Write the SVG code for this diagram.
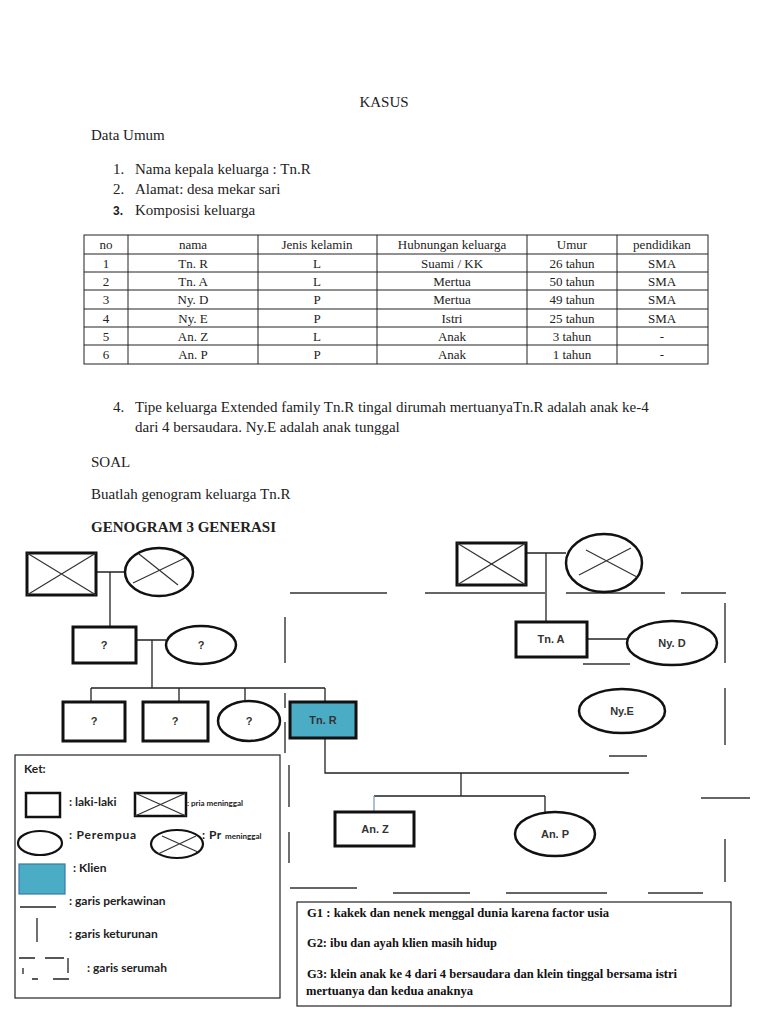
<svg xmlns="http://www.w3.org/2000/svg" width="768" height="1024" viewBox="0 0 768 1024">
<style>
.serif{font-family:"Liberation Serif","Times New Roman",serif;fill:#222}
.t15{font-size:15px}
.tb{font-size:13px;text-anchor:middle}
.lab{font-family:"Liberation Sans",Arial,sans-serif;font-size:11px;font-weight:bold;fill:#333;text-anchor:middle}
.leg{font-family:Lato,"Open Sans",sans-serif;font-size:12px;font-weight:bold;fill:#222}
.gbox{font-family:"Liberation Serif","Times New Roman",serif;font-size:12.5px;font-weight:bold;fill:#111}
.box{fill:#fff;stroke:#111;stroke-width:3}
.ell{fill:#fff;stroke:#111;stroke-width:2.5}
.x{stroke:#333;stroke-width:1.2;fill:none}
.con{stroke:#222;stroke-width:1.3;fill:none}
.dash{stroke:#333;stroke-width:1.4;fill:none}
.grid{stroke:#222;stroke-width:1;fill:none}
</style>

<!-- header text -->
<g id="header">
<text class="serif t15" x="384" y="107" text-anchor="middle">KASUS</text>
<text class="serif t15" x="91" y="140">Data Umum</text>
<text class="serif t15" x="113" y="174">1.</text>
<text class="serif t15" x="135" y="174">Nama kepala keluarga : Tn.R</text>
<text class="serif t15" x="113" y="194">2.</text>
<text class="serif t15" x="135" y="194">Alamat: desa mekar sari</text>
<text x="113" y="215" font-family="Liberation Sans,Arial,sans-serif" font-size="12" font-weight="bold" fill="#222">3.</text>
<text class="serif t15" x="135" y="215">Komposisi keluarga</text>
</g>

<!-- table -->
<g id="table">
<rect class="grid" x="84" y="235" width="624" height="129"/>
<path class="grid" d="M128 235V364M258 235V364M377 235V364M527 235V364M617 235V364M84 254H708M84 272H708M84 290H708M84 309H708M84 327H708M84 345H708"/>
<g class="serif tb">
<text x="106" y="249">no</text><text x="193" y="249">nama</text><text x="317" y="249">Jenis kelamin</text><text x="452" y="249">Hubnungan keluarga</text><text x="572" y="249">Umur</text><text x="662" y="249">pendidikan</text>
<text x="106" y="268">1</text><text x="193" y="268">Tn. R</text><text x="317" y="268">L</text><text x="452" y="268">Suami / KK</text><text x="572" y="268">26 tahun</text><text x="662" y="268">SMA</text>
<text x="106" y="286">2</text><text x="193" y="286">Tn. A</text><text x="317" y="286">L</text><text x="452" y="286">Mertua</text><text x="572" y="286">50 tahun</text><text x="662" y="286">SMA</text>
<text x="106" y="304">3</text><text x="193" y="304">Ny. D</text><text x="317" y="304">P</text><text x="452" y="304">Mertua</text><text x="572" y="304">49 tahun</text><text x="662" y="304">SMA</text>
<text x="106" y="323">4</text><text x="193" y="323">Ny. E</text><text x="317" y="323">P</text><text x="452" y="323">Istri</text><text x="572" y="323">25 tahun</text><text x="662" y="323">SMA</text>
<text x="106" y="341">5</text><text x="193" y="341">An. Z</text><text x="317" y="341">L</text><text x="452" y="341">Anak</text><text x="572" y="341">3 tahun</text><text x="662" y="341">-</text>
<text x="106" y="359">6</text><text x="193" y="359">An. P</text><text x="317" y="359">P</text><text x="452" y="359">Anak</text><text x="572" y="359">1 tahun</text><text x="662" y="359">-</text>
</g>
</g>

<g id="body-text">
<text class="serif t15" x="113" y="412">4.</text>
<text class="serif t15" x="135" y="412">Tipe keluarga Extended family Tn.R tingal dirumah mertuanyaTn.R adalah anak ke-4</text>
<text class="serif t15" x="135" y="432">dari 4 bersaudara. Ny.E adalah anak tunggal</text>
<text class="serif t15" x="91" y="467">SOAL</text>
<text class="serif t15" x="91" y="499">Buatlah genogram keluarga Tn.R</text>
<text class="serif t15" x="91" y="532" font-weight="bold" fill="#111">GENOGRAM 3 GENERASI</text>
</g>

<!-- house (garis serumah) -->
<g id="house" class="dash">
<path d="M290 593H387M425 593H545M566 593H665M681 593H726"/>
<path d="M285 617V663M285 693V708M285 722V753M289 765V807M289 832V863"/>
<path d="M725 603V663M725 688V745M725 839V882"/>
<path d="M583 664H630M609 756H647M701 798H750"/>
<path d="M290 888H357M393 893H470M506 893H607M648 893H703"/>
</g>

<!-- connectors -->
<g id="connectors" class="con">
<path d="M96 572H125M110 572V626"/>
<path d="M137 640H166M152 640V688M91 688H325M91 688V701M179 688V707M245 688V701M325 688V701"/>
<path d="M526 553H566M546 553V621"/>
<path d="M587 639H628"/>
<path d="M325 738V773H629M461 773V796M374 796H545M545 796V812"/>
<path d="M374 796V812" stroke="#7f9fc0"/>
</g>

<!-- nodes -->
<g id="gf-left">
<rect class="box" x="27" y="553" width="69" height="42"/>
<path class="x" d="M27 553L96 595M96 553L27 595"/>
</g>
<g id="gm-left">
<ellipse class="ell" cx="159" cy="572" rx="34" ry="24"/>
<path class="x" d="M133 583L185 558M139 554L178 585"/>
</g>
<g id="father">
<rect class="box" x="73" y="627" width="63" height="36"/>
<text class="lab" x="104" y="649" font-weight="normal">?</text>
</g>
<g id="mother">
<ellipse class="ell" cx="201" cy="645" rx="35" ry="19"/>
<text class="lab" x="201" y="649" font-weight="normal">?</text>
</g>
<g id="sib1">
<rect class="box" x="63" y="702" width="62" height="39"/>
<text class="lab" x="94" y="725" font-weight="normal">?</text>
</g>
<g id="sib2">
<rect class="box" x="143" y="702" width="65" height="39"/>
<text class="lab" x="175" y="725" font-weight="normal">?</text>
</g>
<g id="sib3">
<ellipse class="ell" cx="249" cy="721" rx="31" ry="20"/>
<text class="lab" x="249" y="725" font-weight="normal">?</text>
</g>
<g id="tn-r">
<rect x="290" y="702" width="66" height="36" fill="#4bacc6" stroke="#111" stroke-width="3"/>
<text class="lab" x="323" y="724" fill="#1a1a1a">Tn. R</text>
</g>
<g id="gf-right">
<rect class="box" x="457" y="543" width="69" height="42"/>
<path class="x" d="M457 543L526 585M526 543L457 585"/>
</g>
<g id="gm-right">
<ellipse class="ell" cx="604" cy="563" rx="38" ry="29"/>
<path class="x" d="M579 575L631 548M586 550L637 577"/>
</g>
<g id="tn-a">
<rect class="box" x="516" y="622" width="71" height="35" stroke-width="2.5"/>
<text class="lab" x="551" y="643">Tn. A</text>
</g>
<g id="ny-d">
<ellipse class="ell" cx="672" cy="643" rx="45" ry="22"/>
<text class="lab" x="672" y="647">Ny. D</text>
</g>
<g id="ny-e">
<ellipse class="ell" cx="622" cy="711" rx="43" ry="22" stroke-width="2"/>
<text class="lab" x="622" y="715" font-weight="normal">Ny.E</text>
</g>
<g id="an-z">
<rect class="box" x="335" y="812" width="79" height="34" stroke-width="2.5"/>
<text class="lab" x="375" y="833">An. Z</text>
</g>
<g id="an-p">
<ellipse class="ell" cx="555" cy="834" rx="40" ry="22"/>
<text class="lab" x="555" y="838">An. P</text>
</g>

<!-- legend -->
<g id="legend">
<rect x="15" y="755" width="265" height="243" fill="#fff" stroke="#222" stroke-width="1.2"/>
<text class="leg" x="24" y="773">Ket:</text>
<rect x="26" y="793" width="34" height="24" fill="#fff" stroke="#111" stroke-width="2.5"/>
<text class="leg" x="69" y="806">: laki-laki</text>
<rect x="135" y="793" width="51" height="23" fill="#fff" stroke="#111" stroke-width="2.5"/>
<path class="x" d="M135 793L186 816M186 793L135 816"/>
<text x="187" y="806" font-family="Lato,'Open Sans',sans-serif" font-size="8" font-weight="bold" fill="#222">: pria meninggal</text>
<ellipse cx="40" cy="843" rx="22" ry="12" fill="#fff" stroke="#111" stroke-width="2.2"/>
<text class="leg" x="69" y="839" letter-spacing="0.8">: Perempua</text>
<ellipse cx="177" cy="844" rx="26" ry="14" fill="#fff" stroke="#111" stroke-width="2.2"/>
<path class="x" d="M158 854L196 836M162 836L198 852"/>
<text class="leg" x="202" y="839" letter-spacing="0.5">: Pr <tspan font-size="8" letter-spacing="0">meninggal</tspan></text>
<rect x="19" y="864" width="46" height="30" fill="#4bacc6" stroke="#3a78a8" stroke-width="1.2"/>
<text class="leg" x="73" y="872">: Klien</text>
<path class="con" d="M20 907H56"/>
<text class="leg" x="69" y="905">: garis perkawinan</text>
<path class="con" d="M37 918V942"/>
<text class="leg" x="69" y="938">: garis keturunan</text>
<path class="con" d="M19 958H35M45 958H64M68 958V973M23 968V974M32 979H38M53 979H69"/>
<text class="leg" x="87" y="972">: garis serumah</text>
</g>

<!-- notes box -->
<g id="notes">
<rect x="297" y="902" width="434" height="104" fill="#fff" stroke="#222" stroke-width="1.2"/>
<text class="gbox" x="307" y="917" textLength="302" lengthAdjust="spacingAndGlyphs">G1 : kakek dan nenek  menggal dunia karena factor usia</text>
<text class="gbox" x="307" y="947" textLength="190" lengthAdjust="spacingAndGlyphs">G2: ibu dan ayah klien masih hidup</text>
<text class="gbox" x="307" y="978" textLength="370" lengthAdjust="spacingAndGlyphs">G3: klein anak ke 4 dari 4 bersaudara dan klein tinggal bersama istri</text>
<text class="gbox" x="306" y="995" textLength="167" lengthAdjust="spacingAndGlyphs">mertuanya dan kedua anaknya</text>
</g>
</svg>
